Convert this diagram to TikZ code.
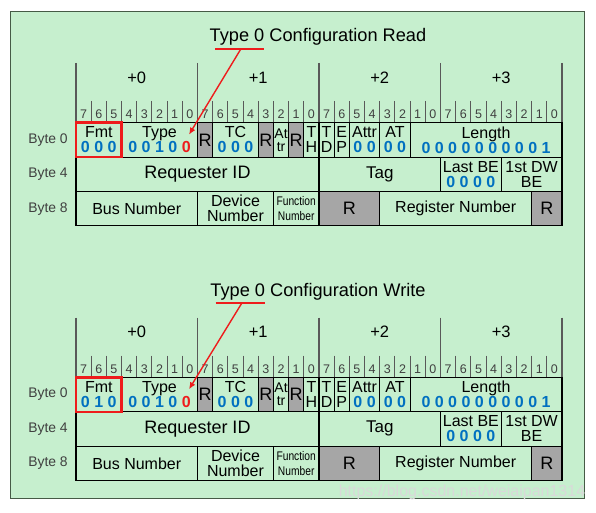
\documentclass[tikz,border=0pt]{standalone}
\usepackage{fontspec}
\setmainfont{Liberation Sans}
\usepackage{graphicx}
\usetikzlibrary{calc,arrows.meta}
\definecolor{panelGreen}{RGB}{198,239,206}
\definecolor{panelEdge}{RGB}{70,90,70}
\definecolor{fieldGray}{RGB}{166,166,166}
\definecolor{bitBlue}{RGB}{0,112,192}
\definecolor{markRed}{RGB}{238,28,28}
\colorlet{tickGray}{black!65}

\newcommand{\bw}{15.1875}
\newcommand{\rowh}{34.4}
\newcommand{\bits}[1]{{\bfseries\color{bitBlue}#1}}
\newcommand{\redbit}[1]{{\bfseries\color{markRed}#1}}
% one cell of the header: [style]{name}{first bit}{bits}{row}{text}
\newcommand{\fieldat}[6][]{%
  \node[field, #1, minimum width={#4*\bw*1pt}, minimum height={\rowh*1pt}]
    (#2) at ({76+#3*\bw},{122.7+#5*\rowh}) {#6};}

\tikzset{
  field/.style={draw, line width=1.1pt, fill=panelGreen, inner sep=0pt, outer sep=0pt,
    anchor=north west, align=center, font=\fontsize{16}{15}\selectfont},
  rsv/.style={fill=fieldGray, font=\fontsize{18}{18}\selectfont},
  tick/.style={draw=tickGray, line width=0.9pt},
  major/.style={draw=tickGray, line width=1.2pt},
  pointer/.style={draw=markRed, line width=1.4pt, -{Latex[length=7pt,width=6pt]}}
}

\begin{document}
\begin{tikzpicture}[x=1pt, y=-1pt,
    every node/.style={inner sep=0pt},
    title/.style={anchor=base, font=\fontsize{18.2}{20}\selectfont},
    offset/.style={anchor=base, font=\fontsize{16.5}{18}\selectfont},
    bitnum/.style={anchor=base, text=black!75, font=\fontsize{12.5}{13}\selectfont},
    rowlabel/.style={text=black!75, font=\fontsize{13.9}{15}\selectfont}]
  \fill[white] (0,0) rectangle (596,513);
  \draw[panelEdge, line width=1pt, fill=panelGreen] (10,12) rectangle (584,498);

  \foreach \dy/\p/\ttl/\fmt in {0/rd/Read/{0 0 0}, 254.6/wr/Write/{0 1 0}} {
    \begin{scope}[shift={(0,\dy)}]
      % byte offsets and bit numbers
      \foreach \k in {0,...,3}
        \node[offset] (\p-off\k) at ({76+(\k+0.5)*121.5},83.3) {+\k};
      \foreach \k in {0,...,4}
        \draw[major] ({76+\k*121.5},63) -- ({76+\k*121.5},122.7);
      \foreach \i in {0,...,31} {
        \pgfmathtruncatemacro{\bitno}{7-mod(\i,8)}
        \draw[tick] ({76+\i*\bw},101) -- ++(0,21.7);
        \node[bitnum] (\p-bit\i) at ({76+(\i+0.5)*\bw},119) {\bitno};
      }
      \foreach \k/\lbl in {0/0, 1/4, 2/8}
        \node[rowlabel] (\p-row\k) at (48,{122.7+(\k+0.5)*\rowh}) {Byte \lbl};

      % Byte 0
      \fieldat{\p-fmt}{0}{3}{0}{Fmt\\\bits{\fmt}}
      \fieldat{\p-type}{3}{5}{0}{Type\\\bits{0 0 1 0} \redbit{0}}
      \fieldat[rsv]{\p-r1}{8}{1}{0}{R}
      \fieldat{\p-tc}{9}{3}{0}{TC\\\bits{0 0 0}}
      \fieldat[rsv]{\p-r2}{12}{1}{0}{R}
      \fieldat[font=\fontsize{14}{13}\selectfont]{\p-atr}{13}{1}{0}{At\\tr}
      \fieldat[rsv]{\p-r3}{14}{1}{0}{R}
      \fieldat{\p-th}{15}{1}{0}{T\\H}
      \fieldat{\p-td}{16}{1}{0}{T\\D}
      \fieldat{\p-ep}{17}{1}{0}{E\\P}
      \fieldat{\p-attr}{18}{2}{0}{Attr\\\bits{0 0}}
      \fieldat{\p-at}{20}{2}{0}{AT\\\bits{0 0}}
      \fieldat{\p-len}{22}{10}{0}{Length\\\bits{0 0 0 0 0 0 0 0 0 1}}
      % Byte 4
      \fieldat[font=\fontsize{18}{18}\selectfont]{\p-req}{0}{16}{1}{Requester ID}
      \fieldat[font=\fontsize{17}{17}\selectfont]{\p-tag}{16}{8}{1}{Tag}
      \fieldat{\p-lbe}{24}{4}{1}{Last BE\\\bits{0 0 0 0}}
      \fieldat{\p-fbe}{28}{4}{1}{1st DW\\BE}
      % Byte 8
      \fieldat{\p-bus}{0}{8}{2}{Bus Number}
      \fieldat{\p-dev}{8}{5}{2}{Device\\Number}
      \fieldat[font=\fontsize{12.5}{15}\selectfont]{\p-fun}{13}{3}{2}
        {\scalebox{0.82}[1]{Function}\\\scalebox{0.82}[1]{Number}}
      \fieldat[rsv]{\p-r4}{16}{4}{2}{R}
      \fieldat{\p-reg}{20}{10}{2}{Register Number}
      \fieldat[rsv]{\p-r5}{30}{2}{2}{R}

      \draw[markRed, line width=2.4pt] (\p-fmt.north west) rectangle (\p-fmt.south east);

      % title and pointer to the type value
      \node[title] (\p-title) at (318,41.7) {Type 0 Configuration \ttl};
      \coordinate (\p-ula) at ($(\p-title.base west)+(5.5,7)$);
      \coordinate (\p-ulb) at ($(\p-title.base west)+(54.5,7)$);
      \coordinate (\p-tip) at ($(\p-type.north east)+(-8.5,12)$);
      \draw[markRed, line width=2pt] (\p-ula) -- (\p-ulb);
      \draw[pointer] ($(\p-ula)!0.53!(\p-ulb)$) -- (\p-tip);
    \end{scope}
  }

  \node[text=white!70!gray, font=\fontsize{16}{16}\selectfont] (mark) at (462,492)
    {https://blog.csdn.net/weiaipan1314};
\end{tikzpicture}
\end{document}
